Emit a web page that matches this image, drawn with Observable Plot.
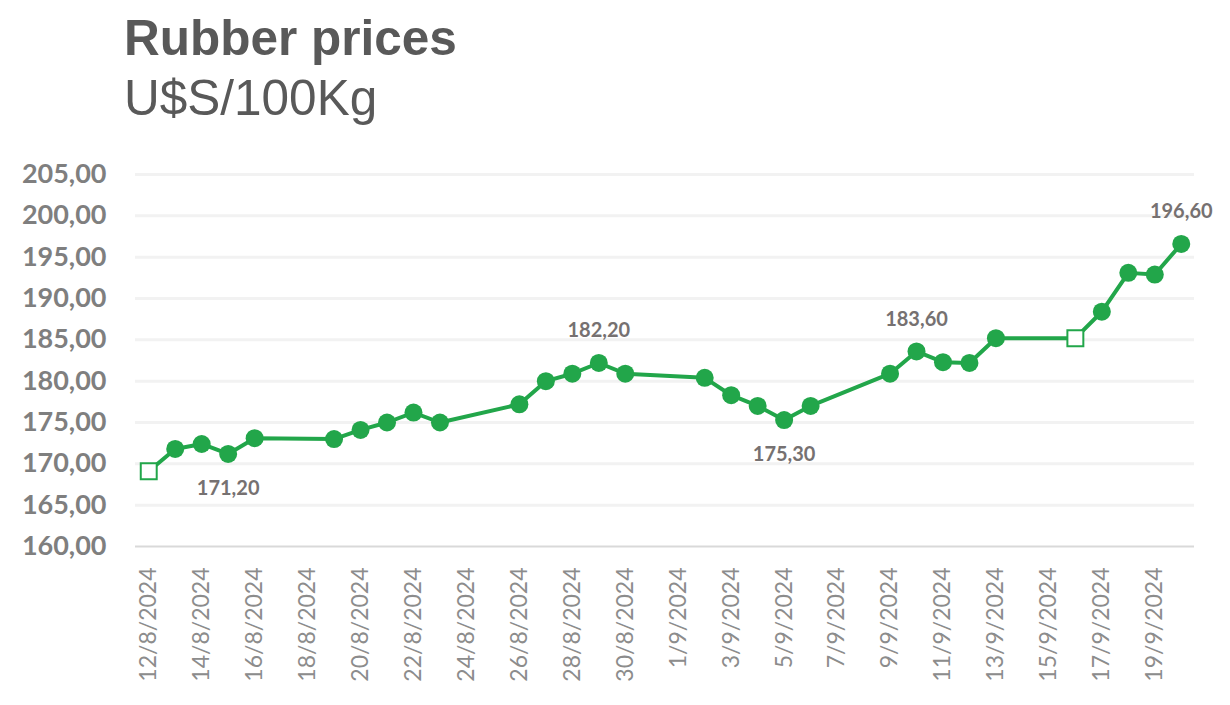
<!DOCTYPE html>
<html>
<head>
<meta charset="utf-8">
<script src="https://cdn.jsdelivr.net/npm/d3@7"></script>
<script src="https://cdn.jsdelivr.net/npm/@observablehq/plot@0.6"></script>
<style>
  html, body { margin: 0; padding: 0; background: #fff; }
  #head { position: relative; height: 130px; width: 1230px; font-family: "Liberation Sans", Arial, sans-serif; color: #595959; }
  #title { position: absolute; left: 124px; top: 13px; font-size: 49.5px; line-height: 50px; font-weight: bold; }
  #subtitle { position: absolute; left: 124px; top: 73px; font-size: 49.5px; line-height: 50px; }
  #chart svg { display: block; }
</style>
</head>
<body>
<div id="head">
  <div id="title">Rubber prices</div>
  <div id="subtitle">U$S/100Kg</div>
</div>
<div id="chart"></div>
<script>
// ---- data ----
const dates = ["12/8/2024","13/8/2024","14/8/2024","15/8/2024","16/8/2024",
  "19/8/2024","20/8/2024","21/8/2024","22/8/2024","23/8/2024",
  "26/8/2024","27/8/2024","28/8/2024","29/8/2024","30/8/2024",
  "2/9/2024","3/9/2024","4/9/2024","5/9/2024","6/9/2024",
  "9/9/2024","10/9/2024","11/9/2024","12/9/2024","13/9/2024",
  "16/9/2024","17/9/2024","18/9/2024","19/9/2024","20/9/2024"];
const prices = [169.1, 171.8, 172.4, 171.2, 173.1,
  173.0, 174.1, 175.0, 176.2, 175.0,
  177.2, 180.0, 180.9, 182.2, 180.9,
  180.4, 178.3, 177.0, 175.3, 177.0,
  180.9, 183.6, 182.3, 182.2, 185.2,
  185.2, 188.4, 193.1, 192.9, 196.6];
const labeledDates = ["15/8/2024","29/8/2024","5/9/2024","10/9/2024","20/9/2024"];
const hollowDates = ["12/8/2024","16/9/2024"];
const xTickLabels = ["12/8/2024","14/8/2024","16/8/2024","18/8/2024","20/8/2024",
  "22/8/2024","24/8/2024","26/8/2024","28/8/2024","30/8/2024",
  "1/9/2024","3/9/2024","5/9/2024","7/9/2024","9/9/2024",
  "11/9/2024","13/9/2024","15/9/2024","17/9/2024","19/9/2024"];
const yTicks = [160,165,170,175,180,185,190,195,200,205];

// ---- helpers ----
const parse = s => { const [d,m,y] = s.split("/").map(Number); return new Date(Date.UTC(y, m-1, d)); };
const fmtDate = d => `${d.getUTCDate()}/${d.getUTCMonth()+1}/${d.getUTCFullYear()}`;
const fmtNum = v => v.toFixed(2).replace(".", ",");

const data = dates.map((s, i) => ({date: parse(s), price: prices[i], key: s}));
const solid = data.filter(d => !hollowDates.includes(d.key));
const hollow = data.filter(d => hollowDates.includes(d.key));
const labeled = data.filter(d => labeledDates.includes(d.key)).map(d => {
  const i = data.indexOf(d);
  const prev = data[i-1], next = data[i+1];
  const isMin = prev && next && d.price < prev.price && d.price < next.price;
  return {...d, below: isMin};
});
const above = labeled.filter(d => !d.below);
const below = labeled.filter(d => d.below);

const halfDay = 12 * 3600 * 1000;
const first = data[0].date, last = data[data.length-1].date;
const green = "#22a64a";

const chart = Plot.plot({
  width: 1230,
  height: 575,
  marginLeft: 135,
  marginRight: 36,
  marginTop: 44,
  marginBottom: 159,
  style: {fontFamily: "Lato, 'Open Sans', sans-serif", background: "#fff"},
  x: {type: "utc", domain: [new Date(+first - halfDay), new Date(+last + halfDay)]},
  y: {domain: [160, 205]},
  marks: [
    Plot.gridY(yTicks.filter(t => t > 160), {stroke: "#f2f2f2", strokeOpacity: 1, strokeWidth: 3}),
    Plot.ruleY([160], {stroke: "#d9d9d9", strokeWidth: 2}),
    Plot.axisY(yTicks, {tickSize: 0, tickPadding: 29, tickFormat: fmtNum, fontSize: 27, fontWeight: "bold", color: "#7f7f7f", label: null}),
    Plot.axisX(xTickLabels.map(parse), {tickSize: 0, tickPadding: 21, tickRotate: -90, tickFormat: fmtDate, fontSize: 23, color: "#8c8c8c", label: null}),
    Plot.line(data, {x: "date", y: "price", stroke: green, strokeWidth: 4}),
    Plot.dot(solid, {x: "date", y: "price", r: 9, fill: green, stroke: "none"}),
    Plot.dot(hollow, {x: "date", y: "price", r: 9, symbol: "square", fill: "#fff", stroke: green, strokeWidth: 2}),
    Plot.text(above, {x: "date", y: "price", text: d => fmtNum(d.price), dy: -32, fontSize: 20, fontWeight: "bold", fill: "#767171"}),
    Plot.text(below, {x: "date", y: "price", text: d => fmtNum(d.price), dy: 35, fontSize: 20, fontWeight: "bold", fill: "#767171"})
  ]
});
document.getElementById("chart").appendChild(chart);
</script>
</body>
</html>
